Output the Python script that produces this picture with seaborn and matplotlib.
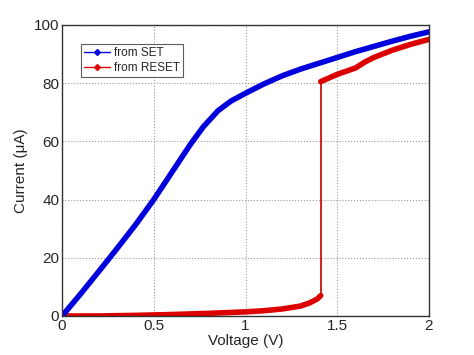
import numpy as np
import pandas as pd
import matplotlib
matplotlib.use("Agg")
import matplotlib.pyplot as plt
import seaborn as sns
from matplotlib.lines import Line2D

# values
set_voltage = [0.0, 0.1, 0.2, 0.3, 0.4, 0.5, 0.6, 0.7, 0.77, 0.85, 0.92, 1.0,
               1.1, 1.2, 1.3, 1.4, 1.5, 1.6, 1.7, 1.8, 1.9, 2.0]
set_current = [0.0, 7.5, 15.3, 23.2, 31.3, 40.0, 49.5, 59.0, 65.0, 70.5, 73.8, 76.5,
               79.7, 82.5, 84.8, 86.8, 88.8, 90.8, 92.6, 94.4, 96.1, 97.6]

reset_low_voltage = [0.0, 0.2, 0.4, 0.6, 0.8, 1.0, 1.1, 1.2, 1.3, 1.35, 1.39, 1.41]
reset_low_current = [0.0, 0.0, 0.2, 0.5, 0.9, 1.4, 1.8, 2.4, 3.4, 4.5, 5.8, 7.0]
reset_high_voltage = [1.41, 1.5, 1.6, 1.65, 1.7, 1.8, 1.9, 2.0]
reset_high_current = [80.5, 83.0, 85.2, 87.2, 88.8, 91.3, 93.3, 95.0]

xticks = [0, 0.5, 1, 1.5, 2]
yticks = [0, 20, 40, 60, 80, 100]

sns.set_style("white")
plt.rcParams["font.family"] = ["Liberation Sans", "DejaVu Sans"]

fig = plt.figure(figsize=(4.74, 3.55), dpi=100)
ax = fig.add_axes([0.131, 0.110, 0.774, 0.820])

blue = "#0000dd"
red = "#dd0000"

df_set = pd.DataFrame({"V": set_voltage, "I": set_current})
df_low = pd.DataFrame({"V": reset_low_voltage, "I": reset_low_current})
df_high = pd.DataFrame({"V": reset_high_voltage, "I": reset_high_current})
df_jump = pd.DataFrame({"V": [reset_low_voltage[-1], reset_high_voltage[0]],
                        "I": [reset_low_current[-1], reset_high_current[0]]})

sns.lineplot(data=df_jump, x="V", y="I", ax=ax, color="#c81010", lw=1.3,
             sort=False, estimator=None)
sns.lineplot(data=df_low, x="V", y="I", ax=ax, color=red, lw=4.0,
             sort=False, estimator=None)
sns.lineplot(data=df_high, x="V", y="I", ax=ax, color=red, lw=4.0,
             sort=False, estimator=None)
sns.lineplot(data=df_set, x="V", y="I", ax=ax, color=blue, lw=4.0,
             sort=False, estimator=None)

ax.set_xlim(0, 2)
ax.set_ylim(0, 100)
ax.set_xticks(xticks)
ax.set_xticklabels(["0", "0.5", "1", "1.5", "2"])
ax.set_yticks(yticks)
ax.tick_params(direction="in", length=3, labelsize=11, pad=2, color="#333333")
ax.grid(True, linestyle=":", color="#999999", lw=0.8)
for s in ax.spines.values():
    s.set_color("#333333")
    s.set_linewidth(1.0)

ax.set_xlabel("Voltage (V)", fontsize=11, labelpad=1)
ax.set_ylabel("Current (\u03bcA)", fontsize=11, labelpad=4)

handles = [Line2D([], [], color=blue, lw=1, marker="D", markersize=3),
           Line2D([], [], color=red, lw=1, marker="D", markersize=3)]
leg = ax.legend(handles, ["from SET", "from RESET"], loc="upper left",
                bbox_to_anchor=(0.035, 0.955), fontsize=8.5, frameon=True,
                fancybox=False, handlelength=2.2, handletextpad=0.3,
                borderpad=0.3, labelspacing=0.2)
leg.get_frame().set_edgecolor("#333333")
leg.get_frame().set_linewidth(0.8)

fig.savefig("out.png", dpi=100)
